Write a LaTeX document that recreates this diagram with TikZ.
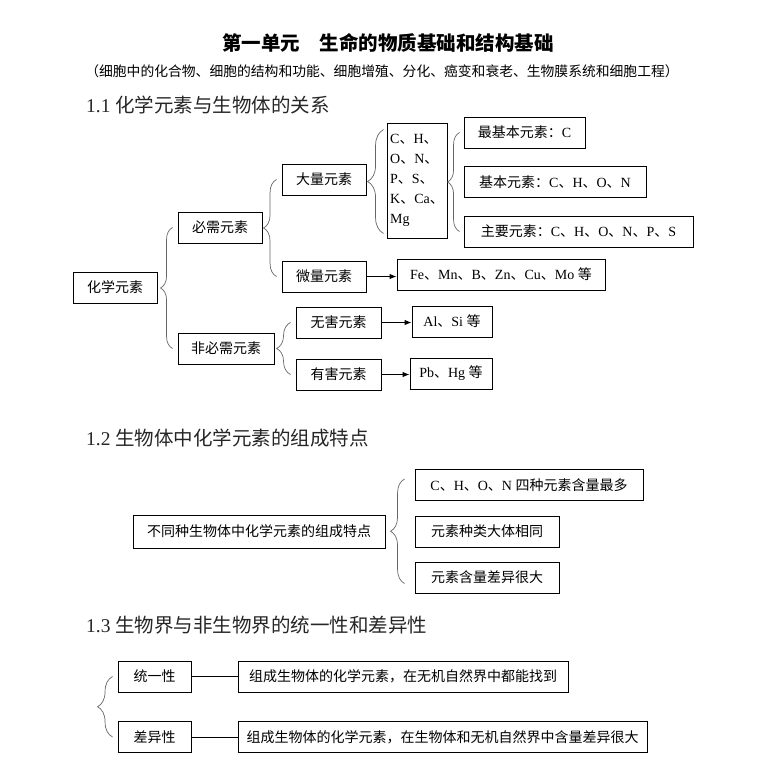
\documentclass[tikz,border=0pt]{standalone}
\usepackage{fontspec}
\setmainfont{Liberation Serif}
\newfontfamily\cjk{Noto Sans CJK SC}
\usetikzlibrary{arrows.meta,decorations.pathreplacing}

% Chinese characters switch to the CJK font by themselves
\XeTeXinterchartokenstate=1
\newXeTeXintercharclass\cjkclass
\newcount\cjkcode
\def\setcjkrange#1#2{\cjkcode=#1 \loop\XeTeXcharclass\cjkcode=\cjkclass \advance\cjkcode by 1 \ifnum\cjkcode<#2 \repeat}
\setcjkrange{"3000}{"3040}
\setcjkrange{"4E00}{"A000}
\setcjkrange{"FF00}{"FFF0}
\XeTeXinterchartoks 0 \cjkclass = {\cjk}
\XeTeXinterchartoks 4095 \cjkclass = {\cjk}
\XeTeXinterchartoks \cjkclass 0 = {\rmfamily}

\begin{document}
\begin{tikzpicture}[x=1pt, y=-1pt,
        every node/.style={font=\fontsize{14}{17}\selectfont},
        box/.style={draw, line width=0.9pt, minimum height=31pt, inner sep=2pt},
        head/.style={anchor=west, inner sep=0pt, text=black!85, font=\fontsize{19.5}{22}\selectfont},
        br/.style={decorate, decoration={brace, amplitude=#1}, draw=black!60, line width=0.7pt},
        br/.default=12,
        arr/.style={-{Latex[length=7pt,width=5.5pt]}, line width=0.9pt}
    ]
    \useasboundingbox (0,0) rectangle (784,777);

    \node[font=\fontsize{19.5}{22}\selectfont\bfseries] (title) at (388,43) {第一单元　生命的物质基础和结构基础};
    \node[font=\fontsize{13.8}{16}\selectfont] (sub) at (382,71) {（细胞中的化合物、细胞的结构和功能、细胞增殖、分化、癌变和衰老、生物膜系统和细胞工程）};

    % 1.1
    \node[head] (h1) at (86,105) {1.1 化学元素与生物体的关系};
    \node[box, minimum width=84pt] (hx)      at (115,287.5) {化学元素};
    \node[box, minimum width=84pt] (bixu)    at (220,227.5) {必需元素};
    \node[box, minimum width=96pt] (feibixu) at (226,348.5) {非必需元素};
    \node[box, minimum width=84pt] (daliang) at (324,179.5) {大量元素};
    \node[box, minimum width=84pt] (weiliang) at (324,276.5) {微量元素};
    \node[box, minimum width=85pt] (wuhai)   at (338.5,322.5) {无害元素};
    \node[box, minimum width=85pt] (youhai)  at (338.5,374.5) {有害元素};
    \node[box, minimum width=60pt, minimum height=115pt, align=left, inner xsep=3pt,
          font=\fontsize{14}{20}\selectfont] (dlist) at (417,180.5) {C、H、\\O、N、\\P、S、\\K、Ca、\\Mg};
    \node[box, minimum width=121pt] (zjb) at (524.5,132.5) {最基本元素：C};
    \node[box, minimum width=182pt] (jb)  at (555,182) {基本元素：C、H、O、N};
    \node[box, minimum width=229pt] (zy)  at (578.5,231.5) {主要元素：C、H、O、N、P、S};
    \node[box, minimum width=208pt] (wlist) at (501,274.5) {Fe、Mn、B、Zn、Cu、Mo 等};
    \node[box, minimum width=80pt] (alsi) at (452,321.5) {Al、Si 等};
    \node[box, minimum width=82pt] (pbhg) at (451,373.5) {Pb、Hg 等};

    \draw[br=12] ([xshift=-5pt]feibixu.west) -- ([xshift=-5pt]bixu.west);
    \draw[br=13] ([xshift=-5pt]weiliang.west) -- ([xshift=-5pt]daliang.west);
    \draw[br=14] ([xshift=-5pt]youhai.west) -- ([xshift=-5pt]wuhai.west);
    \draw[br=16] ([xshift=-3pt,yshift=5pt]dlist.south west) -- ([xshift=-3pt,yshift=-7pt]dlist.north west);
    \draw[br=12] ([xshift=-4pt]zy.west) -- ([xshift=-4pt]zjb.west);
    \draw[arr] (weiliang.east) -- (weiliang.east -| wlist.west);
    \draw[arr] (wuhai.east) -- (wuhai.east -| alsi.west);
    \draw[arr] (youhai.east) -- (youhai.east -| pbhg.west);

    % 1.2
    \node[head] (h2) at (86,438) {1.2 生物体中化学元素的组成特点};
    \node[box, minimum width=252pt, minimum height=33pt] (tedian) at (259,531.5) {不同种生物体中化学元素的组成特点};
    \node[box, minimum width=228pt] (td1) at (529,485) {C、H、O、N 四种元素含量最多};
    \node[box, minimum width=144pt] (td2) at (487,531.5) {元素种类大体相同};
    \node[box, minimum width=144pt] (td3) at (487,577.5) {元素含量差异很大};
    \draw[br=14] ([xshift=-10pt,yshift=-6pt]td3.west) -- ([xshift=-10pt,yshift=6pt]td1.west);

    % 1.3
    \node[head] (h3) at (86,625) {1.3 生物界与非生物界的统一性和差异性};
    \node[box, minimum width=73pt] (tyx) at (154.5,676.5) {统一性};
    \node[box, minimum width=73pt] (cyx) at (154.5,737) {差异性};
    \node[box, minimum width=330pt] (tyd) at (403,676.5) {组成生物体的化学元素，在无机自然界中都能找到};
    \node[box, minimum width=409pt] (cyd) at (442.5,737) {组成生物体的化学元素，在生物体和无机自然界中含量差异很大};
    \draw[line width=0.9pt] (tyx) -- (tyd);
    \draw[line width=0.9pt] (cyx) -- (cyd);
    \draw[br=15] ([xshift=-5pt]cyx.west) -- ([xshift=-5pt]tyx.west);
\end{tikzpicture}
\end{document}
